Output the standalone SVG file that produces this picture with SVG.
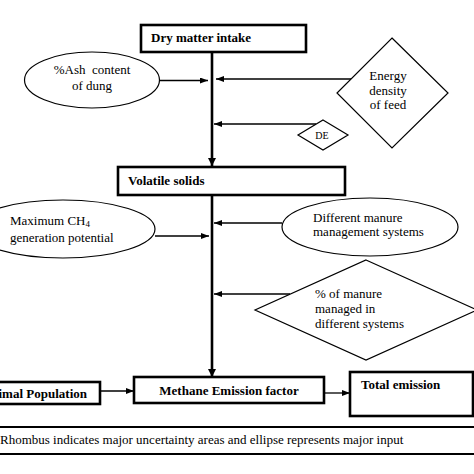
<svg xmlns="http://www.w3.org/2000/svg" width="474" height="474" viewBox="0 0 474 474">
<style>
.box{fill:#fff;stroke:#000;stroke-width:2.6}
.shape{fill:#fff;stroke:#000;stroke-width:1.2}
.lbl{font-family:"Liberation Serif","Times New Roman",serif;font-size:13px;fill:#000}
.b{font-weight:bold}
.con{stroke:#000;stroke-width:1.3;fill:none}
.main{stroke:#000;stroke-width:2.6;fill:none}
</style>
<defs>
<marker id="ah" markerUnits="userSpaceOnUse" markerWidth="8" markerHeight="6" refX="8" refY="3" orient="auto">
<path d="M0,0 L8,3 L0,6 z" fill="#000"/>
</marker>
<marker id="ahm" markerUnits="userSpaceOnUse" markerWidth="8" markerHeight="8" refX="8" refY="4" orient="auto">
<path d="M0,0 L8,4 L0,8 z" fill="#000"/>
</marker>
</defs>
<rect width="474" height="474" fill="#fff"/>
<g id="connectors">
<path class="main" d="M212,52 V166" marker-end="url(#ahm)"/>
<path class="main" d="M212,195 V377" marker-end="url(#ahm)"/>
<path class="con" d="M159,80.5 H208" marker-end="url(#ah)"/>
<path class="con" d="M351,79 H216" marker-end="url(#ah)"/>
<path class="con" d="M316,124 H214" marker-end="url(#ah)"/>
<path class="con" d="M155,236 H209" marker-end="url(#ah)"/>
<path class="con" d="M282,223 H214" marker-end="url(#ah)"/>
<path class="con" d="M290,294 H214" marker-end="url(#ah)"/>
<path class="con" d="M100,391 H134" marker-end="url(#ah)"/>
<path class="con" d="M324,393 H350" marker-end="url(#ah)"/>
</g>
<g id="dry-matter">
<rect class="box" x="141" y="25" width="165" height="27"/>
<text class="lbl b" x="151" y="42">Dry matter intake</text>
</g>
<g id="ash">
<ellipse class="shape" cx="92" cy="80" rx="67.5" ry="28"/>
<text class="lbl" x="92" y="74" text-anchor="middle" xml:space="preserve">%Ash  content</text>
<text class="lbl" x="92" y="90" text-anchor="middle">of dung</text>
</g>
<g id="energy">
<polygon class="shape" points="392,38 448,93 392,148 337,93"/>
<text class="lbl" x="388" y="80" text-anchor="middle">Energy</text>
<text class="lbl" x="388" y="95" text-anchor="middle">density</text>
<text class="lbl" x="388" y="109" text-anchor="middle">of feed</text>
</g>
<g id="de">
<polygon class="shape" points="323,120 348,135 323,150 298,135"/>
<text class="lbl" x="322" y="139" text-anchor="middle" style="font-size:10px">DE</text>
</g>
<g id="volatile">
<rect class="box" x="118" y="167" width="227" height="28"/>
<text class="lbl b" x="128" y="185">Volatile solids</text>
</g>
<g id="max-ch4">
<ellipse class="shape" cx="63" cy="229" rx="92" ry="29"/>
<text class="lbl" x="10" y="225">Maximum CH<tspan font-size="9" dy="2">4</tspan></text>
<text class="lbl" x="10" y="242">generation potential</text>
</g>
<g id="manure-systems">
<ellipse class="shape" cx="370" cy="227" rx="88" ry="29"/>
<text class="lbl" x="313" y="222">Different manure</text>
<text class="lbl" x="313" y="236">management systems</text>
</g>
<g id="manure-pct">
<polygon class="shape" points="366,260 477,310 366,360 255,310"/>
<text class="lbl" x="315" y="298">% of manure</text>
<text class="lbl" x="315" y="313">managed in</text>
<text class="lbl" x="315" y="328">different systems</text>
</g>
<g id="animal">
<rect class="box" x="-10" y="382" width="110" height="22"/>
<text class="lbl b" x="87" y="398" text-anchor="end">imal Population</text>
</g>
<g id="methane">
<rect class="box" x="134" y="377" width="190" height="26"/>
<text class="lbl b" x="229" y="395" text-anchor="middle">Methane Emission factor</text>
</g>
<g id="total">
<rect class="box" x="350" y="372" width="123" height="44"/>
<text class="lbl b" x="361" y="389">Total emission</text>
</g>
<g id="legend">
<rect class="box" x="-5" y="427" width="485" height="27" style="stroke-width:2"/>
<text class="lbl" x="0" y="444">Rhombus indicates major uncertainty areas and ellipse represents major input</text>
</g>
</svg>
